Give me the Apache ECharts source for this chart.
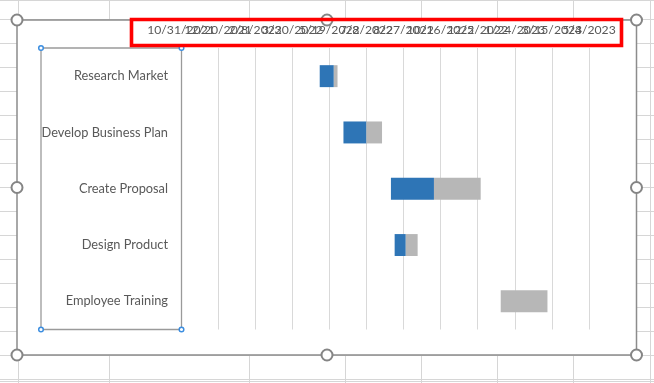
<!DOCTYPE html>
<html>
<head>
<meta charset="utf-8">
<script src="https://cdn.jsdelivr.net/npm/echarts@6/dist/echarts.min.js"></script>
<style>
html,body{margin:0;padding:0;background:#fff;}
#chart{width:654px;height:383px;}
</style>
</head>
<body>
<div id="chart"></div>
<script>
// ---- data ----
const tasks = ['Research Market', 'Develop Business Plan', 'Create Proposal', 'Design Product', 'Employee Training'];
const startDates = ['2022-05-06', '2022-06-07', '2022-08-10', '2022-08-15', '2023-01-05'];
const daysCompleted = [19, 31, 58, 15, 0];
const daysRemaining = [5, 21, 63, 16, 63];
// axis (Excel date serials): 10/31/2021 .. 5/4/2023 every 50 days
const axisMin = 44500;
const axisMax = 45050;
const axisStep = 50;

function toSerial(s) {
  const p = s.split('-').map(Number);
  return Math.round((Date.UTC(p[0], p[1] - 1, p[2]) - Date.UTC(1899, 11, 30)) / 86400000);
}
function serialToLabel(v) {
  const d = new Date(Date.UTC(1899, 11, 30) + Math.round(v) * 86400000);
  return (d.getUTCMonth() + 1) + '/' + d.getUTCDate() + '/' + d.getUTCFullYear();
}
const startSerials = startDates.map(toSerial);

// ---- decoration (spreadsheet look) ----
const deco = [];
const gridColor = '#d6d6d6';
[18, 109, 249, 345, 421, 497, 573, 650].forEach(x => {
  deco.push({type: 'line', z: -10, silent: true, shape: {x1: x + 0.5, y1: 0, x2: x + 0.5, y2: 383}, style: {stroke: gridColor, lineWidth: 1}});
});
[0.5].concat(Array.from({length: 16}, (_, k) => 19.5 + 24 * k)).concat([381.5]).forEach(y => {
  deco.push({type: 'line', z: -10, silent: true, shape: {x1: 0, y1: y, x2: 654, y2: y}, style: {stroke: gridColor, lineWidth: 1}});
});
deco.push({type: 'rect', z: -5, silent: true, shape: {x: 17, y: 20, width: 619.5, height: 335}, style: {fill: '#ffffff', stroke: '#8c8c8c', lineWidth: 1.5}});
deco.push({type: 'rect', z: 50, silent: true, shape: {x: 41, y: 48, width: 140.5, height: 281.5}, style: {fill: 'none', stroke: '#9a9a9a', lineWidth: 1.3}});
[[41, 48], [181.5, 48], [41, 329.5], [181.5, 329.5]].forEach(p => {
  deco.push({type: 'circle', z: 55, silent: true, shape: {cx: p[0], cy: p[1], r: 2.3}, style: {fill: '#ffffff', stroke: '#3c8ee0', lineWidth: 1.5}});
});
[[17, 20], [327, 20], [636.5, 20], [17, 187.5], [636.5, 187.5], [17, 355], [327, 355], [636.5, 355]].forEach(p => {
  deco.push({type: 'circle', z: 60, silent: true, shape: {cx: p[0], cy: p[1], r: 5.5}, style: {fill: '#ffffff', stroke: '#858585', lineWidth: 2}});
});
deco.push({type: 'rect', z: 100, silent: true, shape: {x: 131.5, y: 19.5, width: 490, height: 26}, style: {fill: 'none', stroke: '#ff0000', lineWidth: 3.6}});

const font = 'Lato';
const labelBase = {
  show: true, hideOverlap: false, showMinLabel: true, showMaxLabel: true,
  margin: 12, color: '#595959', fontFamily: font, fontSize: 12.2
};
function dateAxis(parity, showSplit) {
  return {
    type: 'value',
    position: 'top',
    min: axisMin,
    max: axisMax,
    interval: axisStep,
    axisLine: {show: false},
    axisTick: {show: false},
    splitLine: {show: showSplit, lineStyle: {color: '#d9d9d9', width: 1}},
    axisLabel: Object.assign({}, labelBase, {
      formatter: v => (Math.round((v - axisMin) / axisStep) % 2 === parity ? serialToLabel(v) : '')
    })
  };
}

const chart = echarts.init(document.getElementById('chart'), null, {renderer: 'canvas'});
chart.setOption({
  animation: false,
  backgroundColor: 'transparent',
  graphic: {elements: deco},
  grid: {left: 181, top: 48, width: 408, height: 281.5, containLabel: false},
  xAxis: [dateAxis(0, true), dateAxis(1, false)],
  yAxis: {
    type: 'category',
    inverse: true,
    data: tasks,
    axisLine: {show: false},
    axisTick: {show: false},
    splitLine: {show: false},
    axisLabel: {color: '#595959', fontFamily: font, fontSize: 12.8, margin: 13}
  },
  series: [
    {
      name: 'Start Date', type: 'bar', stack: 'gantt', silent: true,
      barCategoryGap: '61%',
      itemStyle: {color: 'transparent'},
      data: startSerials
    },
    {
      name: 'Days Completed', type: 'bar', stack: 'gantt',
      barCategoryGap: '61%',
      itemStyle: {color: '#2e75b6'},
      data: daysCompleted
    },
    {
      name: 'Days Remaining', type: 'bar', stack: 'gantt',
      barCategoryGap: '61%',
      itemStyle: {color: '#b7b7b7'},
      data: daysRemaining
    }
  ]
});
</script>
</body>
</html>
